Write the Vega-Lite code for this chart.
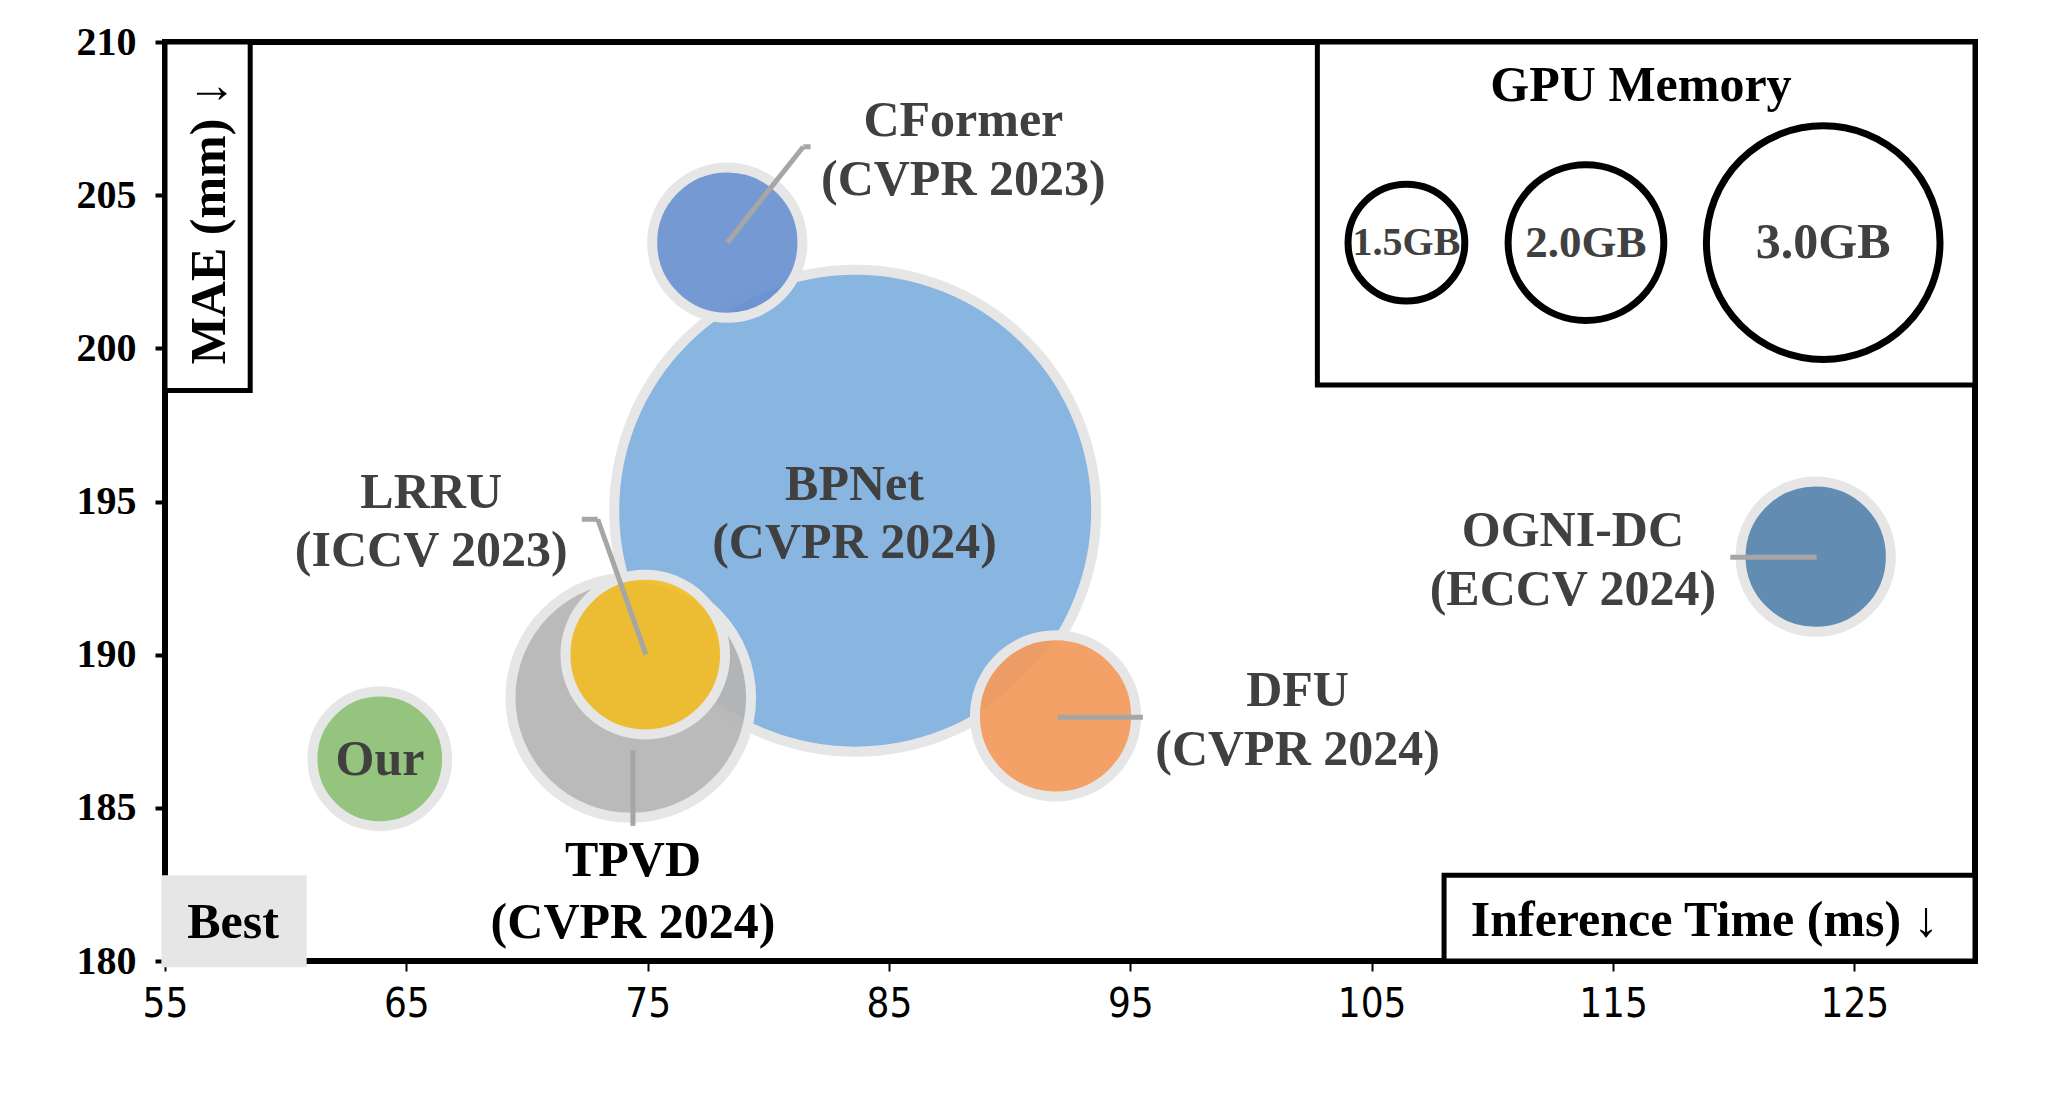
{
  "$schema": "https://vega.github.io/schema/vega-lite/v6.json",
  "width": 1810,
  "height": 919,
  "autosize": {"type": "none"},
  "padding": {"left": 165, "top": 42, "right": 81, "bottom": 151},
  "background": "white",
  "config": {
    "view": {"stroke": "black", "strokeWidth": 6},
    "axis": {"grid": false, "domain": false, "title": null}
  },
  "datasets": {
    "boxes": [
      {"box": "legend", "time": 102.75, "time2": 130, "mae": 198.8, "mae2": 210},
      {"box": "ytitle", "time": 55, "time2": 58.53, "mae": 198.62, "mae2": 210},
      {"box": "xtitle", "time": 108.0, "time2": 130, "mae": 180, "mae2": 182.8},
      {"box": "best", "time": 54.85, "time2": 60.87, "mae": 179.8, "mae2": 182.8}
    ],
    "bubbles": [
      {"model": "BPNet", "time": 83.6, "mae": 194.7, "memory": 6.19},
      {"model": "TPVD", "time": 74.3, "mae": 188.6, "memory": 3.09},
      {"model": "LRRU", "time": 74.9, "mae": 190.0, "memory": 2.05},
      {"model": "CFormer", "time": 78.3, "mae": 203.45, "memory": 1.93},
      {"model": "DFU", "time": 91.9, "mae": 188.0, "memory": 2.07},
      {"model": "Our", "time": 63.9, "mae": 186.6, "memory": 1.73},
      {"model": "OGNI-DC", "time": 123.4, "mae": 193.2, "memory": 1.93}
    ],
    "legend": [
      {"label": "1.5GB", "time": 106.44, "mae": 203.45, "memory": 1.5},
      {"label": "2.0GB", "time": 113.88, "mae": 203.45, "memory": 2.0},
      {"label": "3.0GB", "time": 123.71, "mae": 203.45, "memory": 3.0}
    ],
    "leaders": [
      {"model": "CFormer", "time": 78.3, "mae": 203.45, "time2": 81.45, "mae2": 206.58},
      {"model": "CFormer", "time": 81.45, "mae": 206.58, "time2": 81.75, "mae2": 206.58},
      {"model": "LRRU", "time": 74.93, "mae": 190.0, "time2": 72.93, "mae2": 194.42},
      {"model": "LRRU", "time": 72.93, "mae": 194.42, "time2": 72.27, "mae2": 194.42},
      {"model": "TPVD", "time": 74.39, "mae": 186.89, "time2": 74.39, "mae2": 184.41},
      {"model": "DFU", "time": 91.99, "mae": 187.96, "time2": 95.52, "mae2": 187.96},
      {"model": "OGNI-DC", "time": 119.86, "mae": 193.18, "time2": 123.44, "mae2": 193.18}
    ],
    "labels": [
      {"text": "CFormer", "time": 88.08, "mae": 207.43, "role": "model"},
      {"text": "(CVPR 2023)", "time": 88.08, "mae": 205.51, "role": "model"},
      {"text": "BPNet", "time": 83.57, "mae": 195.54, "role": "model"},
      {"text": "(CVPR 2024)", "time": 83.57, "mae": 193.65, "role": "model"},
      {"text": "LRRU", "time": 66.03, "mae": 195.28, "role": "model"},
      {"text": "(ICCV 2023)", "time": 66.03, "mae": 193.4, "role": "model"},
      {"text": "TPVD", "time": 74.39, "mae": 183.26, "role": "dark"},
      {"text": "(CVPR 2024)", "time": 74.39, "mae": 181.24, "role": "dark"},
      {"text": "DFU", "time": 101.93, "mae": 188.82, "role": "model"},
      {"text": "(CVPR 2024)", "time": 101.93, "mae": 186.89, "role": "model"},
      {"text": "OGNI-DC", "time": 113.34, "mae": 194.04, "role": "model"},
      {"text": "(ECCV 2024)", "time": 113.34, "mae": 192.11, "role": "model"},
      {"text": "Our", "time": 63.91, "mae": 186.55, "role": "model"},
      {"text": "GPU Memory", "time": 116.16, "mae": 208.55, "role": "dark"},
      {"text": "Inference Time (ms) ↓", "time": 118.8, "mae": 181.3, "role": "dark"},
      {"text": "Best", "time": 57.82, "mae": 181.24, "role": "dark"}
    ],
    "legendlabels": [
      {"text": "1.5GB", "time": 106.44, "mae": 203.45, "gb": 1.5},
      {"text": "2.0GB", "time": 113.88, "mae": 203.45, "gb": 2.0},
      {"text": "3.0GB", "time": 123.71, "mae": 203.45, "gb": 3.0}
    ],
    "ytitle": [
      {"text": "MAE (mm) ↓", "time": 56.85, "mae": 204.1}
    ]
  },
  "layer": [
    {
      "data": {"name": "boxes"},
      "mark": {"type": "rect"},
      "encoding": {
        "x": {"field": "time", "type": "quantitative",
              "scale": {"domain": [55, 130], "nice": false, "zero": false},
              "axis": {"values": [55, 65, 75, 85, 95, 105, 115, 125], "labelFlush": false, "labelOverlap": false, "labelFont": "Liberation Sans Narrow, DejaVu Sans Condensed, sans-serif", "labelFontSize": 40, "labelColor": "black", "tickColor": "black", "tickSize": 10, "tickWidth": 2, "labelPadding": 13}},
        "x2": {"field": "time2"},
        "y": {"field": "mae", "type": "quantitative",
              "scale": {"domain": [180, 210], "nice": false, "zero": false},
              "axis": {"values": [180, 185, 190, 195, 200, 205, 210], "labelFlush": false, "labelOverlap": false, "labelFont": "Liberation Serif", "labelFontWeight": "bold", "labelFontSize": 40, "labelColor": "black", "tickColor": "black", "tickSize": 10, "tickWidth": 4, "labelPadding": 19}},
        "y2": {"field": "mae2"},
        "fill": {"condition": {"test": "datum.box === 'best'", "value": "#e6e6e6"}, "value": "white"},
        "stroke": {"condition": {"test": "datum.box === 'best'", "value": "#e6e6e6"}, "value": "black"},
        "strokeWidth": {"condition": {"test": "datum.box === 'best'", "value": 0}, "value": 5}
      }
    },
    {
      "data": {"name": "bubbles"},
      "mark": {"type": "point", "shape": "circle", "filled": true, "fillOpacity": 0.93, "stroke": "#e6e6e6", "strokeWidth": 10, "strokeOpacity": 1},
      "encoding": {
        "x": {"field": "time", "type": "quantitative"},
        "y": {"field": "mae", "type": "quantitative"},
        "size": {"field": "memory", "type": "quantitative", "scale": {"type": "pow", "exponent": 2, "domain": [0, 3], "range": [0, 54570], "zero": true}, "legend": null},
        "color": {"field": "model", "type": "nominal", "legend": null,
                  "scale": {"domain": ["BPNet", "TPVD", "LRRU", "CFormer", "DFU", "Our", "OGNI-DC"],
                            "range": ["#7fb0df", "#b5b5b5", "#f0bc28", "#6a91d0", "#f39a5b", "#8dbf74", "#5683ab"]}},
        "stroke": {"value": "#e6e6e6"}
      }
    },
    {
      "data": {"name": "legend"},
      "mark": {"type": "point", "shape": "circle", "filled": false, "stroke": "black", "strokeWidth": 7, "opacity": 1},
      "encoding": {
        "x": {"field": "time", "type": "quantitative"},
        "y": {"field": "mae", "type": "quantitative"},
        "size": {"field": "memory", "type": "quantitative", "legend": null}
      }
    },
    {
      "data": {"name": "leaders"},
      "mark": {"type": "rule", "color": "#a6a6a6", "strokeWidth": 5},
      "encoding": {
        "x": {"field": "time", "type": "quantitative"},
        "y": {"field": "mae", "type": "quantitative"},
        "x2": {"field": "time2"},
        "y2": {"field": "mae2"}
      }
    },
    {
      "data": {"name": "labels"},
      "mark": {"type": "text", "font": "Liberation Serif", "fontWeight": "bold", "fontSize": 50, "align": "center", "baseline": "middle"},
      "encoding": {
        "x": {"field": "time", "type": "quantitative"},
        "y": {"field": "mae", "type": "quantitative"},
        "text": {"field": "text"},
        "color": {"condition": {"test": "datum.role === 'dark'", "value": "black"}, "value": "#404040"}
      }
    },
    {
      "data": {"name": "legendlabels"},
      "mark": {"type": "text", "font": "Liberation Serif", "fontWeight": "bold", "align": "center", "baseline": "middle", "color": "#404040"},
      "encoding": {
        "x": {"field": "time", "type": "quantitative"},
        "y": {"field": "mae", "type": "quantitative"},
        "text": {"field": "text"},
        "size": {"condition": [{"test": "datum.gb === 1.5", "value": 40}, {"test": "datum.gb === 2", "value": 45}], "value": 50}
      }
    },
    {
      "data": {"name": "ytitle"},
      "mark": {"type": "text", "font": "Liberation Serif", "fontWeight": "bold", "fontSize": 50, "align": "center", "baseline": "middle", "angle": 270, "color": "black"},
      "encoding": {
        "x": {"field": "time", "type": "quantitative"},
        "y": {"field": "mae", "type": "quantitative"},
        "text": {"field": "text"}
      }
    }
  ]
}
